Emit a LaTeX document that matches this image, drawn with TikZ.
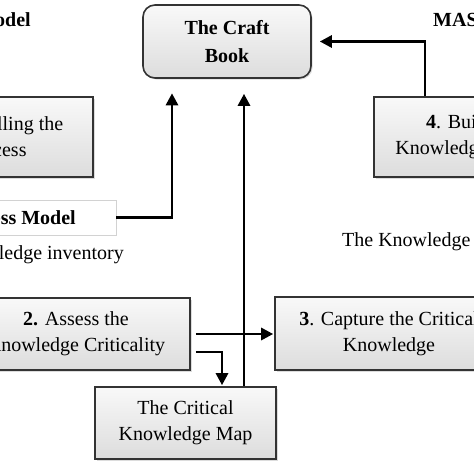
\documentclass[tikz,border=0pt]{standalone}
\usepackage{fontspec}
\setmainfont{Liberation Serif}
\usetikzlibrary{arrows.meta,shadows}
\begin{document}
\begin{tikzpicture}[x=1pt,y=-1pt,
  txt/.style={inner sep=0pt, font=\fontsize{20}{26}\selectfont},
  hdr/.style={inner sep=0pt, font=\bfseries\fontsize{20}{26}\selectfont},
  box/.style={draw=black!80, line width=1.6pt, top color=gray!5, bottom color=gray!27,
    inner sep=0pt, align=center, font=\fontsize{20}{26}\selectfont,
    drop shadow={shadow xshift=1.5pt, shadow yshift=-1.5pt, fill=gray!45, opacity=0.6}},
  pmbox/.style={draw=gray!35, line width=0.9pt, fill=white, inner sep=0pt,
    font=\bfseries\fontsize{20}{26}\selectfont},
  arr/.style={line width=2.8pt, -{Triangle[length=12pt,width=12pt]}}
]
\useasboundingbox (0,0) rectangle (474,474);
\clip (0,0) rectangle (474,474);
\fill[white] (0,0) rectangle (474,474);

% headings
\node[hdr, anchor=base east] (hl) at (31,26) {Process Model};
\node[hdr, anchor=base west] (hr) at (433,26) {MASK};

% boxes
\node[box, rounded corners=12pt, minimum width=168pt, minimum height=73pt,
  font=\bfseries\fontsize{20}{28}\selectfont] (craft) at (227,41.5) {The Craft\\Book};
\node[box, minimum width=194pt, minimum height=80pt] (b1) at (-4,137) {\textbf{1.} Modelling the\\Process};
\node[box, minimum width=200pt, minimum height=80pt] (b4) at (474,137) {\textbf{4}. Build the\\Knowledge Models};
\node[pmbox, minimum width=204pt, minimum height=35pt] (pm) at (14,217.5) {Process Model};
\node[box, minimum width=228pt, minimum height=72pt] (b2) at (76,334) {\textbf{2.} Assess the\\Knowledge Criticality};
\node[box, minimum width=228pt, minimum height=73pt] (b3) at (389,333.5) {\textbf{3}. Capture the Critical\\Knowledge};
\node[box, minimum width=181pt, minimum height=72pt] (map) at (185.5,423) {The Critical\\Knowledge Map};

% labels
\node[txt, anchor=base east] (inv) at (124,259) {Knowledge inventory};
\node[txt, anchor=base west] (kb) at (342,246) {The Knowledge Book};

% connectors
\draw[arr, shorten >=14.5pt] (pm.east) -| ([xshift=-55pt]craft.south);
\draw[arr, shorten >=15pt] ([xshift=58.5pt]map.north) -- ([xshift=17pt]craft.south);
\draw[arr, shorten <=5pt, shorten >=1pt] (b2.east) -- (b3.west |- b2.east);
\draw[arr, shorten <=5pt, shorten >=1pt] ([yshift=-18pt]b2.east) -| ([xshift=36.5pt]map.north);
\draw[arr, shorten >=8pt] ([xshift=-49pt]b4.north) |- (craft.east);
\end{tikzpicture}
\end{document}
